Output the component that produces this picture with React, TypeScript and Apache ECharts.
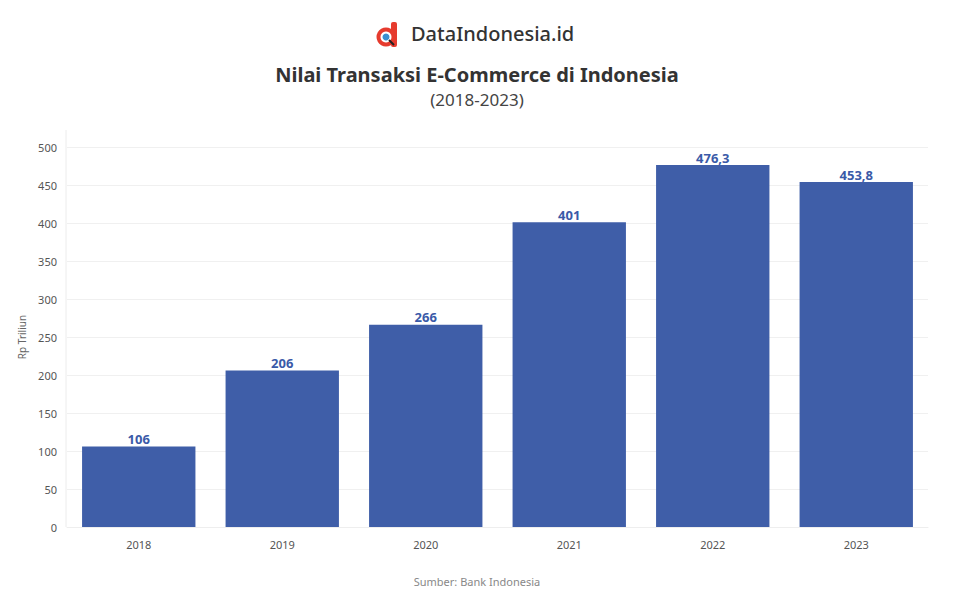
import React, { useEffect, useRef } from "react";
import * as echarts from "echarts";

const categories = ["2018", "2019", "2020", "2021", "2022", "2023"];
const values = [106, 206, 266, 401, 476.3, 453.8];
const yTicks = [0, 50, 100, 150, 200, 250, 300, 350, 400, 450, 500];

const fmt = (v: number) => String(v).replace(".", ",");

export default function App() {
  const ref = useRef<HTMLDivElement>(null);
  useEffect(() => {
    const chart = echarts.init(ref.current!, null, { renderer: "svg" });
    const font = "'Source Sans Pro', 'Noto Sans', sans-serif";
    chart.setOption({
      animation: false,
      backgroundColor: "#ffffff",
      textStyle: { fontFamily: font },
      title: [
        {
          text: "Nilai Transaksi E-Commerce di Indonesia",
          left: "center",
          top: 59,
          textStyle: { fontSize: 20, fontWeight: "bold", color: "#333333", fontFamily: font },
        },
        {
          text: "(2018-2023)",
          left: "center",
          top: 86,
          textStyle: { fontSize: 17, fontWeight: "normal", color: "#444444", fontFamily: font },
        },
        {
          text: "Sumber: Bank Indonesia",
          left: "center",
          top: 571,
          textStyle: { fontSize: 11, fontWeight: "normal", color: "#888888", fontFamily: font },
        },
      ],
      graphic: [
        {
          type: "text",
          left: 411,
          top: 23,
          style: { text: "DataIndonesia.id", fontSize: 20, fontFamily: font, fill: "#333333", fontWeight: 500 },
        },
        { type: "rect", shape: { x: 391, y: 22, width: 6, height: 25, r: 2 }, style: { fill: "#e63b2e" } },
        { type: "circle", shape: { cx: 386, cy: 37, r: 9.5 }, style: { fill: "#e63b2e" } },
        { type: "circle", shape: { cx: 386, cy: 37, r: 5.5 }, style: { fill: "#ffffff" } },
        { type: "circle", shape: { cx: 386, cy: 37, r: 3.5 }, style: { fill: "#3a8fd0" } },
        { type: "line", shape: { x1: 389, y1: 40, x2: 394, y2: 45 }, style: { stroke: "#222", lineWidth: 2 } },
        { type: "line", shape: { x1: 66, y1: 130, x2: 66, y2: 527 }, style: { stroke: "#ececec", lineWidth: 1 } },
      ],
      grid: { left: 67, right: 26, top: 147, bottom: 69, containLabel: false },
      xAxis: {
        type: "category",
        data: categories,
        axisLine: { show: true, lineStyle: { color: "#eeeeee" } },
        axisTick: { show: false },
        axisLabel: { color: "#555555", fontSize: 11, margin: 12 },
      },
      yAxis: {
        type: "value",
        min: 0,
        max: 500,
        interval: 50,
        name: "Rp Triliun",
        nameLocation: "middle",
        nameGap: 40,
        nameTextStyle: { color: "#666666", fontSize: 10 },
        axisLine: { show: false },
        axisTick: { show: false },
        axisLabel: {
          color: "#555555",
          fontSize: 11,
          margin: 10,
          formatter: (v: number) => (yTicks.includes(v) ? String(v) : ""),
        },
        splitLine: { lineStyle: { color: "#f0f0f0" } },
      },
      series: [
        {
          type: "bar",
          data: values,
          barCategoryGap: "21%",
          itemStyle: { color: "#3f5ea8" },
          label: {
            show: true,
            position: "top",
            distance: 1,
            color: "#3a5aa8",
            fontWeight: "bold",
            fontSize: 13,
            formatter: (p: any) => fmt(p.value),
          },
        },
      ],
    });
    return () => chart.dispose();
  }, []);
  return <div ref={ref} style={{ width: 954, height: 596, margin: -8 }} />;
}
